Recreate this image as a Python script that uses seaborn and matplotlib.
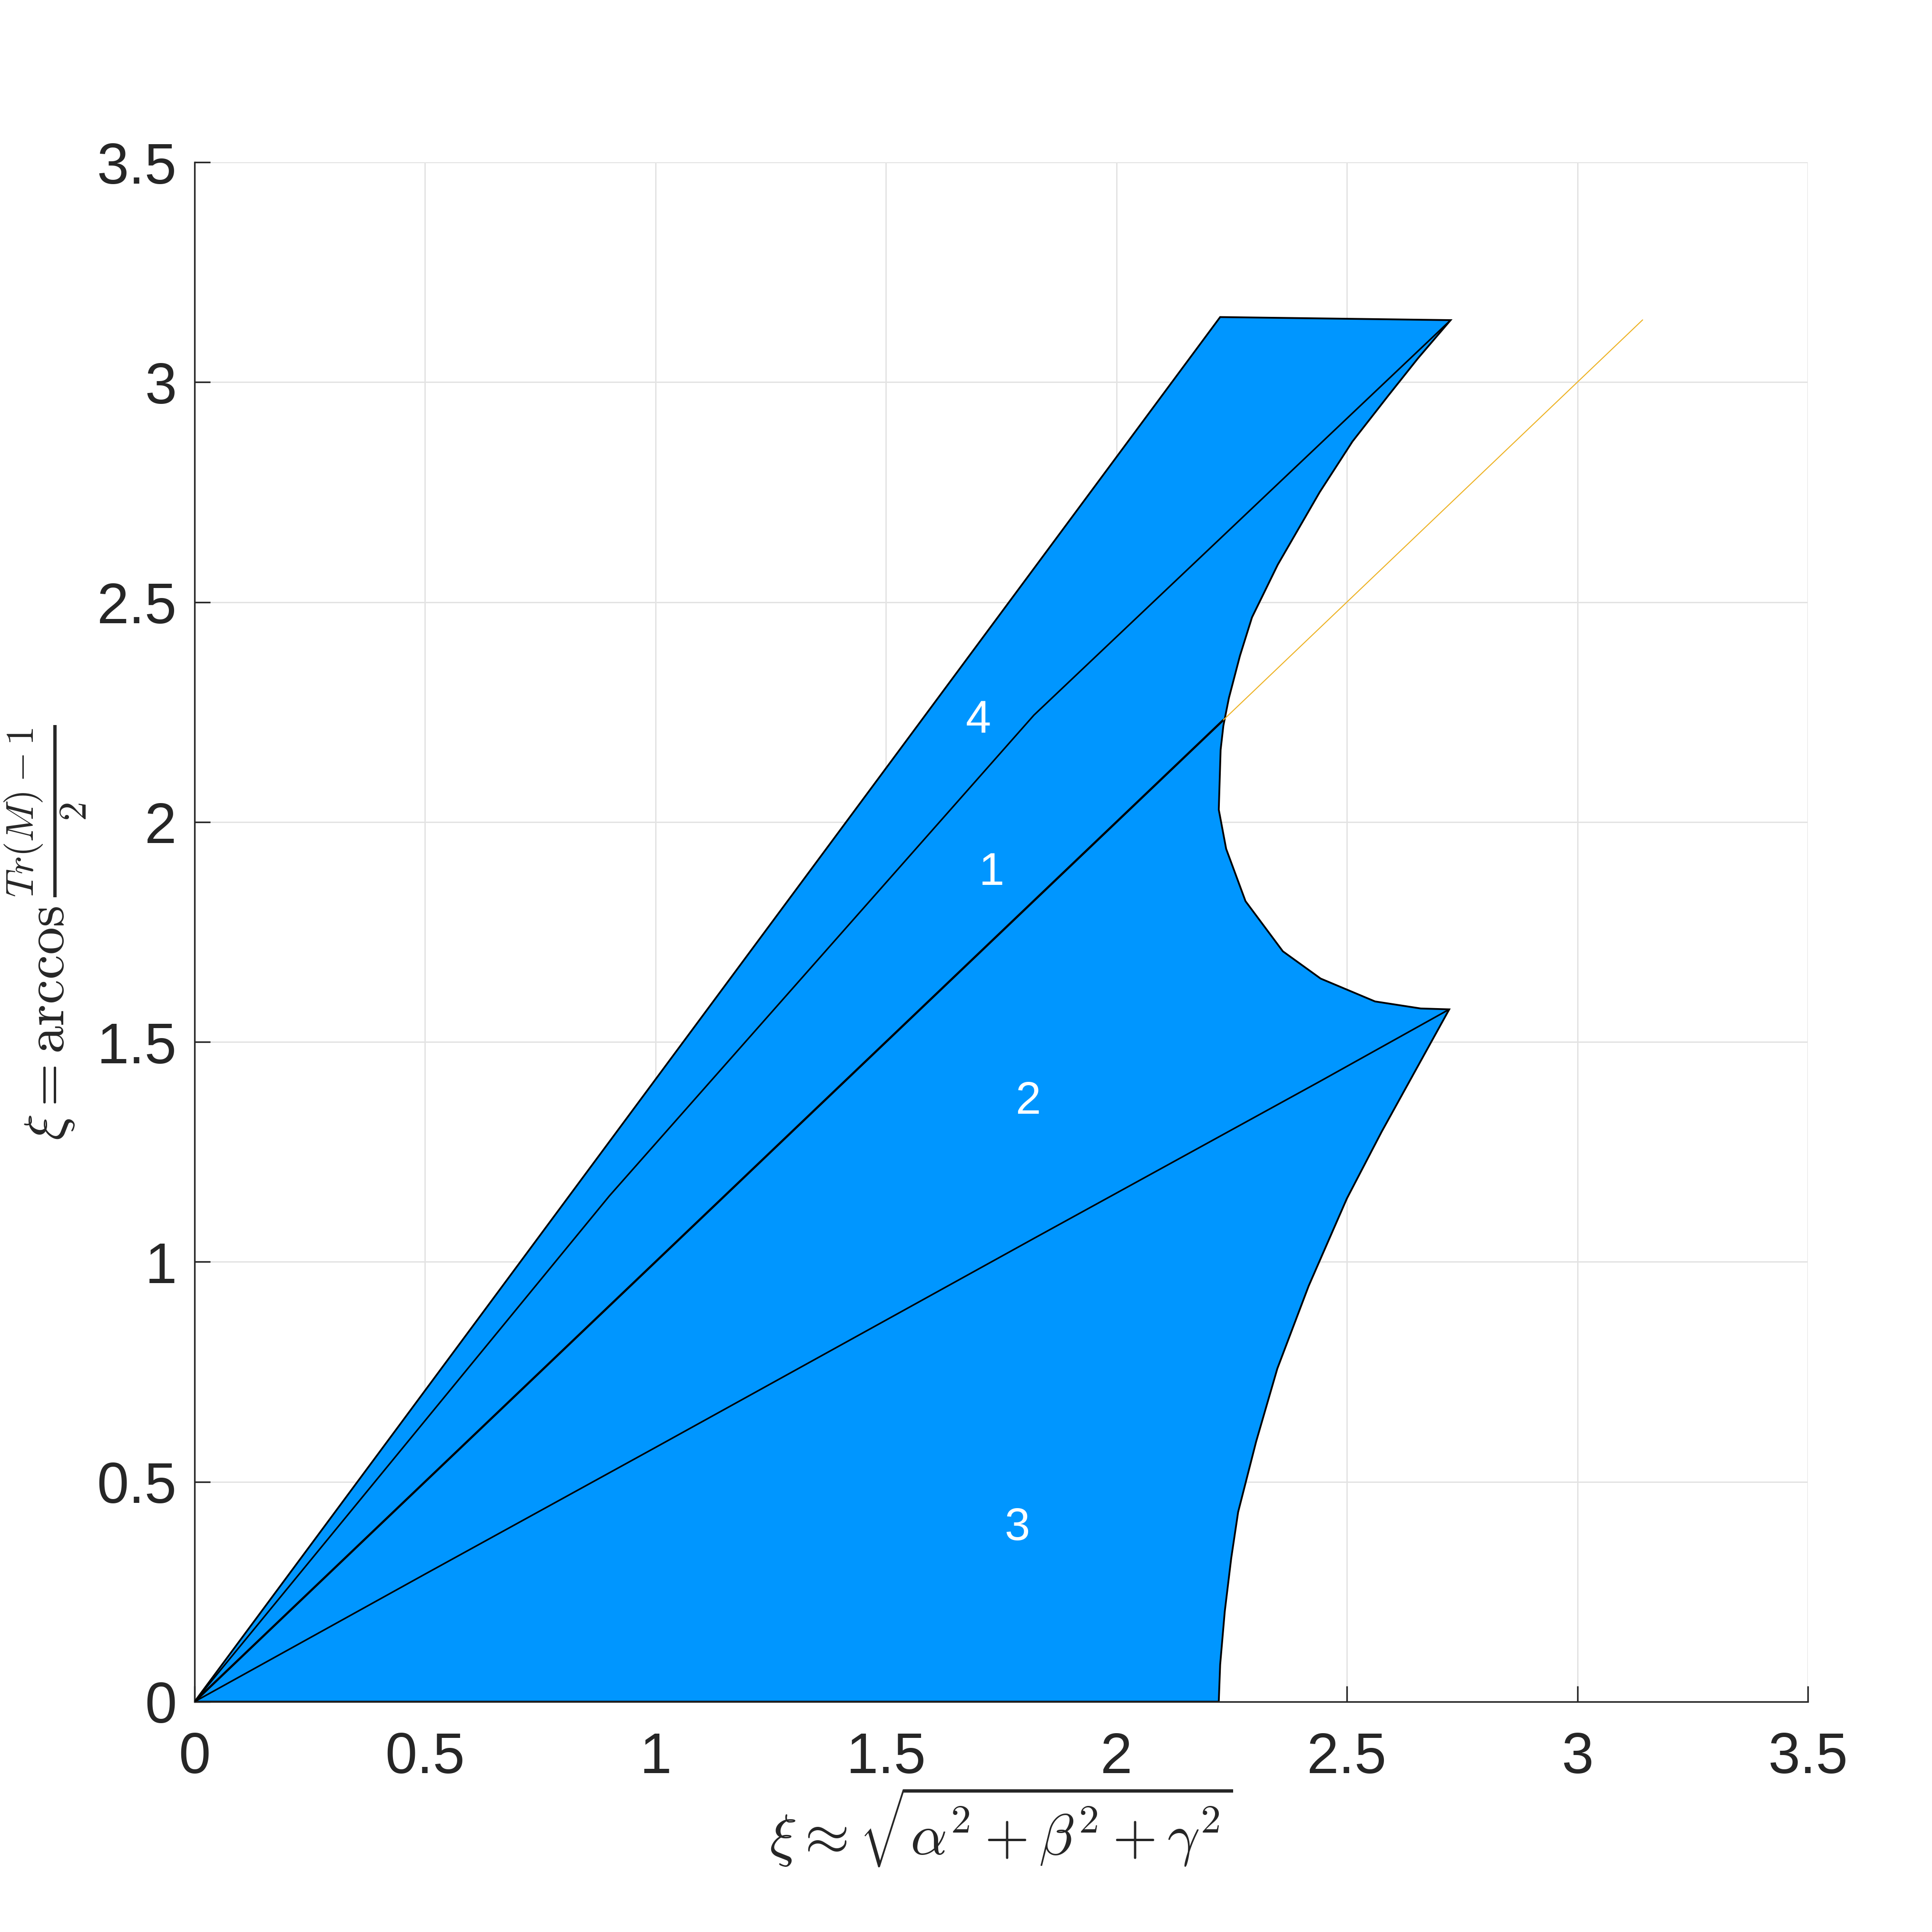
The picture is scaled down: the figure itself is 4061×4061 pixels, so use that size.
import matplotlib
matplotlib.use("Agg")
import matplotlib.pyplot as plt
import seaborn as sns
import pandas as pd

# outer boundary of the region (x = xi_approx, y = xi)
outer_x = [0, 2.225, 2.725, 2.654, 2.591, 2.512, 2.441, 2.350, 2.294, 2.268, 2.244,
           2.232, 2.226, 2.222, 2.238, 2.280, 2.361, 2.443, 2.561, 2.660, 2.722,
           2.575, 2.500, 2.417, 2.349, 2.303, 2.264, 2.249, 2.235, 2.225, 2.222, 0]
outer_y = [0, 3.148, 3.141, 3.054, 2.971, 2.865, 2.750, 2.585, 2.465, 2.378, 2.282,
           2.219, 2.164, 2.028, 1.939, 1.820, 1.706, 1.644, 1.592, 1.576, 1.574,
           1.295, 1.144, 0.945, 0.757, 0.591, 0.431, 0.326, 0.205, 0.084, 0.0, 0]

# internal boundaries
line_41_x = [0, 0.90, 1.821, 2.725]
line_41_y = [0, 1.15, 2.243, 3.141]
line_12_x = [0, 2.232]
line_12_y = [0, 2.232]
line_23_x = [0, 0.5, 1.0, 1.824, 2.441, 2.722]
line_23_y = [0, 0.29, 0.578, 1.055, 1.41, 1.574]
diag_x = [2.232, 3.1416]
diag_y = [2.232, 3.1416]

region_labels = ["4", "1", "2", "3"]
label_x = [1.70, 1.729, 1.808, 1.785]
label_y = [2.231, 1.885, 1.365, 0.396]

ticks = [0, 0.5, 1, 1.5, 2, 2.5, 3, 3.5]
tick_labels = ["0", "0.5", "1", "1.5", "2", "2.5", "3", "3.5"]

sns.set_theme(style="whitegrid")
plt.rcParams["font.family"] = ["Liberation Sans", "DejaVu Sans"]
plt.rcParams["mathtext.fontset"] = "cm"

fig = plt.figure(figsize=(13.54, 13.54), dpi=300)
ax = fig.add_axes([0.1007, 0.1192, 0.8348, 0.7966])

ax.fill(outer_x, outer_y, facecolor="#0096ff", edgecolor="black", linewidth=0.9, zorder=2)

for lx, ly, lw in [(line_41_x, line_41_y, 0.8), (line_12_x, line_12_y, 1.1), (line_23_x, line_23_y, 0.8)]:
    sns.lineplot(x=lx, y=ly, sort=False, estimator=None, color="black", linewidth=lw, ax=ax, zorder=3)
sns.lineplot(x=diag_x, y=diag_y, sort=False, estimator=None, color="#edb120", linewidth=0.5, ax=ax, zorder=3)

for t, x, y in zip(region_labels, label_x, label_y):
    ax.text(x, y, t, color="white", fontsize=23, ha="center", va="center", zorder=4)

ax.set_xlim(0, 3.5)
ax.set_ylim(0, 3.5)
ax.set_xticks(ticks)
ax.set_xticklabels(tick_labels)
ax.set_yticks(ticks)
ax.set_yticklabels(tick_labels)
ax.grid(True, color="#e3e3e3", linewidth=0.7)
ax.set_axisbelow(True)
ax.set_facecolor("white")
for side in ["top", "right"]:
    ax.spines[side].set_visible(False)
for side in ["left", "bottom"]:
    ax.spines[side].set_color("#262626")
    ax.spines[side].set_linewidth(0.8)
ax.tick_params(axis="both", direction="in", length=8, width=0.8, color="#262626",
               labelsize=29, labelcolor="#262626")
ax.tick_params(axis="x", pad=15, bottom=True)
ax.tick_params(axis="y", pad=9, left=True)

ax.set_xlabel(r"$\xi \approx \sqrt{\alpha^2+\beta^2+\gamma^2}$", fontsize=29, color="#262626", labelpad=0)
ax.set_ylabel(r"$\xi = \arccos\frac{Tr(M)-1}{2}$", fontsize=28, color="#262626")
ax.yaxis.set_label_coords(-0.066, 0.5)

fig.savefig("out.png", dpi=300, facecolor="white")
